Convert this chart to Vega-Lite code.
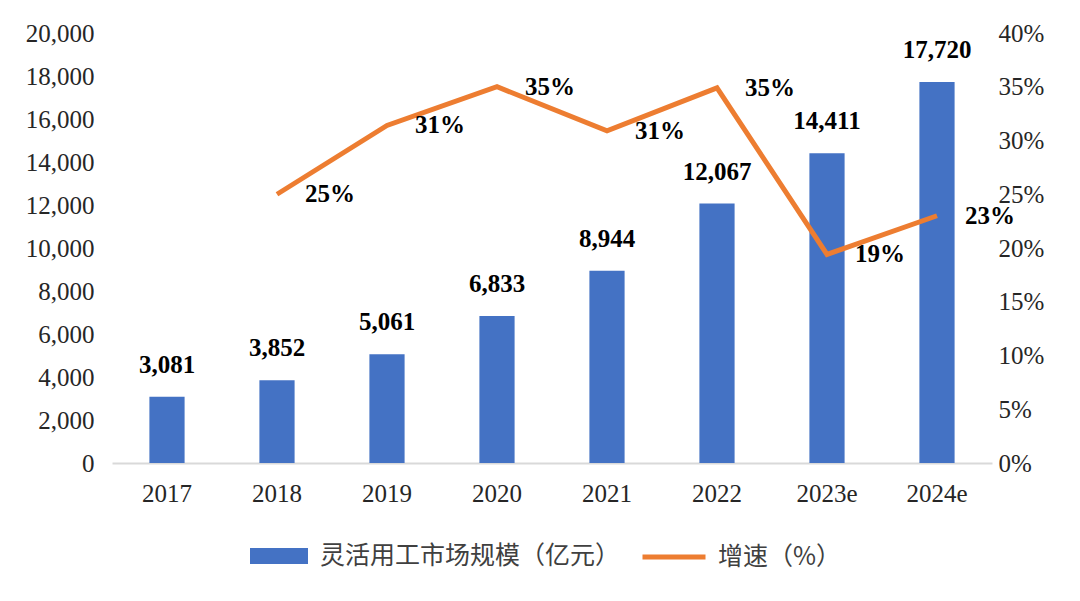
{
  "$schema": "https://vega.github.io/schema/vega-lite/v6.json",
  "width": 880,
  "height": 430,
  "autosize": {"type": "none"},
  "padding": {"left": 112, "top": 33, "right": 88, "bottom": 138},
  "background": "white",
  "config": {
    "view": {"stroke": null},
    "axis": {"labelFont": "Liberation Serif", "labelFontSize": 25, "labelColor": "#262626", "grid": false, "ticks": false, "domain": false, "title": null},
    "legend": {"labelFont": "Noto Sans CJK SC", "labelFontSize": 25, "labelColor": "#404040", "labelLimit": 400}
  },
  "data": {
    "values": [
      {"year": "2017", "size": 3081, "growth": null},
      {"year": "2018", "size": 3852, "growth": 0.25},
      {"year": "2019", "size": 5061, "growth": 0.314},
      {"year": "2020", "size": 6833, "growth": 0.35},
      {"year": "2021", "size": 8944, "growth": 0.309},
      {"year": "2022", "size": 12067, "growth": 0.349},
      {"year": "2023e", "size": 14411, "growth": 0.194},
      {"year": "2024e", "size": 17720, "growth": 0.23}
    ]
  },
  "encoding": {
    "x": {
      "field": "year",
      "type": "ordinal",
      "sort": null,
      "scale": {"paddingInner": 0.68, "paddingOuter": 0.34},
      "axis": {"labelAngle": 0, "domain": true, "domainColor": "#D9D9D9", "domainWidth": 2, "labelPadding": 18}
    }
  },
  "layer": [
    {
      "encoding": {
        "y": {
          "field": "size",
          "type": "quantitative",
          "scale": {"domain": [0, 20000]},
          "axis": {"values": [0, 2000, 4000, 6000, 8000, 10000, 12000, 14000, 16000, 18000, 20000], "format": ",.0f", "labelPadding": 18}
        }
      },
      "layer": [
        {
          "mark": {"type": "bar", "color": "#4472C4"},
          "encoding": {
            "color": {
              "datum": "灵活用工市场规模（亿元）",
              "scale": {"range": ["#4472C4"]},
              "legend": {
                "orient": "none", "legendX": 138, "legendY": 494,
                "symbolType": "M-1,-0.276H1V0.276H-1Z", "symbolSize": 3364,
                "symbolStrokeWidth": 0, "labelOffset": 12, "title": null
              }
            }
          }
        },
        {
          "mark": {"type": "text", "baseline": "alphabetic", "dy": -24, "font": "Liberation Serif", "fontWeight": "bold", "fontSize": 25, "color": "#000000"},
          "encoding": {"text": {"field": "size", "type": "quantitative", "format": ",.0f"}}
        }
      ]
    },
    {
      "encoding": {
        "y": {
          "field": "growth",
          "type": "quantitative",
          "scale": {"domain": [0, 0.4]},
          "axis": {"orient": "right", "values": [0, 0.05, 0.1, 0.15, 0.2, 0.25, 0.3, 0.35, 0.4], "format": ".0%", "labelPadding": 6}
        }
      },
      "layer": [
        {
          "mark": {"type": "line", "strokeWidth": 5},
          "encoding": {
            "stroke": {
              "datum": "增速（%）",
              "scale": {"range": ["#ED7D31"]},
              "legend": {
                "orient": "none", "legendX": 528, "legendY": 490,
                "symbolType": "stroke", "symbolSize": 3969, "symbolStrokeWidth": 5,
                "labelOffset": 10, "title": null
              }
            }
          }
        },
        {
          "mark": {"type": "text", "dx": 53, "dy": 0, "font": "Liberation Serif", "fontWeight": "bold", "fontSize": 25, "color": "#000000"},
          "encoding": {"text": {"field": "growth", "type": "quantitative", "format": ".0%"}}
        }
      ]
    }
  ],
  "resolve": {"scale": {"y": "independent"}}
}
